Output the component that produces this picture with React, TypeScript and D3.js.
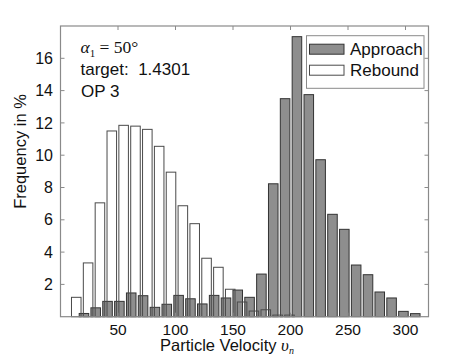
import React from "react";
import * as d3 from "d3";

const approachCenters = [20.4, 30.6, 40.9, 51.2, 61.5, 71.8, 82.1, 92.4, 102.7, 113.0, 123.3, 133.6, 143.9, 154.1, 164.4, 174.7, 185.0, 195.3, 205.6, 215.9, 226.2, 236.5, 246.8, 257.1, 267.4, 277.6, 287.9, 298.2, 308.5];
const approachValues = [0.2, 0.55, 0.95, 0.95, 1.47, 1.3, 0.58, 0.77, 1.32, 1.11, 0.79, 1.32, 1.16, 1.65, 1.2, 2.64, 8.23, 13.5, 17.34, 13.75, 9.72, 6.34, 5.41, 3.2, 2.6, 1.53, 1.16, 0.33, 0.19];

const reboundCenters = [13.7, 24.0, 34.3, 44.6, 54.9, 65.2, 75.5, 85.8, 96.1, 106.4, 116.7, 127.0, 137.3, 147.6, 157.9, 168.2, 178.5, 188.8, 199.1];
const reboundValues = [1.2, 3.33, 7.05, 11.5, 11.85, 11.8, 11.6, 10.55, 8.95, 6.87, 5.76, 3.62, 3.06, 1.7, 0.91, 0.35, 0.43, 0.1, 0.1];

const xTicks = [50, 100, 150, 200, 250, 300];
const yTicks = [2, 4, 6, 8, 10, 12, 14, 16];
const legendLabels = ["Approach", "Rebound"];

const W = 474;
const H = 355;
const left = 60.5;
const right = 428.5;
const top = 26;
const bottom = 316.7;

export default function App() {
  const x = d3.scaleLinear().domain([0, 320]).range([left, right]);
  const y = d3.scaleLinear().domain([0, 18]).range([bottom, top]);
  const barW = 8.3;
  const font = "'Liberation Sans', Arial, sans-serif";
  const axisColor = "#8a8a8a";

  return (
    <svg width={W} height={H} style={{ position: "absolute", left: 0, top: 0, background: "#fff" }} fontFamily={font}>
      <rect x={0} y={0} width={W} height={H} fill="#fff" />
      {approachCenters.map((c, i) => (
        <rect
          key={"a" + i}
          x={x(c - barW / 2)}
          y={y(approachValues[i])}
          width={x(barW) - x(0)}
          height={y(0) - y(approachValues[i])}
          fill="#8e8e8e"
          stroke="#333"
          strokeWidth={1}
        />
      ))}
      {reboundCenters.map((c, i) => (
        <rect
          key={"r" + i}
          x={x(c - barW / 2)}
          y={y(reboundValues[i])}
          width={x(barW) - x(0)}
          height={y(0) - y(reboundValues[i])}
          fill="none"
          stroke="#4a4a4a"
          strokeWidth={1}
        />
      ))}
      <rect x={left} y={top} width={right - left} height={bottom - top} fill="none" stroke={axisColor} strokeWidth={1.2} />
      {xTicks.map((t) => (
        <g key={"xt" + t}>
          <line x1={x(t)} x2={x(t)} y1={top} y2={top + 4} stroke={axisColor} />
          <line x1={x(t)} x2={x(t)} y1={bottom} y2={bottom - 4} stroke={axisColor} />
          <text x={x(t)} y={334.5} textAnchor="middle" fontSize={15.5} fill="#111">
            {t}
          </text>
        </g>
      ))}
      {yTicks.map((t) => (
        <g key={"yt" + t}>
          <line x1={left} x2={left + 4} y1={y(t)} y2={y(t)} stroke={axisColor} />
          <line x1={right} x2={right - 4} y1={y(t)} y2={y(t)} stroke={axisColor} />
          <text x={53} y={y(t) + 5.6} textAnchor="end" fontSize={16} fill="#111">
            {t}
          </text>
        </g>
      ))}
      <text x={0} y={0} transform={`translate(26,151.5) rotate(-90)`} textAnchor="middle" fontSize={16.5} fill="#111">
        Frequency in %
      </text>
      <text x={160} y={351} fontSize={16.5} fill="#111">
        Particle Velocity{" "}
        <tspan fontFamily="'Liberation Serif', serif" fontStyle="italic" fontSize={17}>υ</tspan>
        <tspan fontFamily="'Liberation Serif', serif" fontStyle="italic" fontSize={10} dy={2.5}>n</tspan>
      </text>
      <text x={80.5} y={52.5} fontSize={17.5} fontFamily="'Liberation Serif', serif" fill="#111">
        <tspan fontStyle="italic">α</tspan>
        <tspan fontSize={11} dy={4}>1</tspan>
        <tspan dy={-4}> = 50°</tspan>
      </text>
      <text x={80.5} y={74.5} fontSize={17} fill="#111">
        {"target:\u00a0 1.4301"}
      </text>
      <text x={81} y={96.5} fontSize={17} fill="#111">
        OP 3
      </text>
      <rect x={306.5} y={35.7} width={117.5} height={52.6} fill="#fff" stroke={axisColor} strokeWidth={1} />
      <rect x={309.5} y={44.2} width={34.5} height={10} fill="#8e8e8e" stroke="#333" strokeWidth={1} />
      <rect x={309.5} y={65.2} width={34.5} height={10} fill="#fff" stroke="#4a4a4a" strokeWidth={1} />
      <text x={350} y={55} fontSize={17} fill="#111">
        {legendLabels[0]}
      </text>
      <text x={350} y={76} fontSize={17} fill="#111">
        {legendLabels[1]}
      </text>
    </svg>
  );
}
